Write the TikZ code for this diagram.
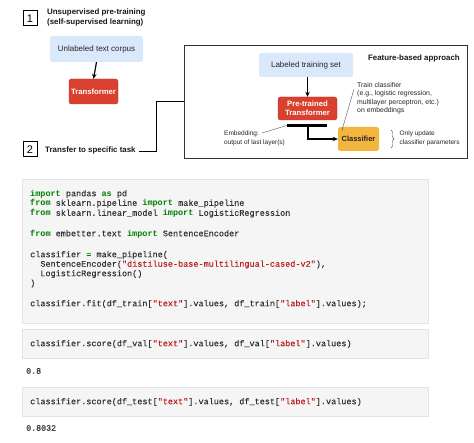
\documentclass[tikz,border=0pt]{standalone}
\usepackage{fontspec}
\setmainfont{Liberation Sans}
\newfontfamily\codefont[UprightFeatures={FakeBold=0.35}]{Liberation Mono}
\usetikzlibrary{arrows.meta,decorations.pathreplacing}
\definecolor{lblue}{HTML}{DAE8FC}
\definecolor{tred}{HTML}{D9412E}
\definecolor{corange}{HTML}{F2B53E}
\definecolor{kwgreen}{HTML}{008000}
\definecolor{strred}{HTML}{BA2121}
\definecolor{codefg}{HTML}{333333}
\definecolor{cellbg}{HTML}{F5F5F5}
\definecolor{cellbd}{HTML}{E4E4E4}
\definecolor{leader}{HTML}{555555}
\newcommand\kw[1]{\textcolor{kwgreen}{\bfseries #1}}
\newcommand\st[1]{\textcolor{strred}{#1}}
\begin{document}
\begin{tikzpicture}[x=1pt,y=-1pt,
  numbox/.style={draw=black, line width=1pt, minimum width=14pt, minimum height=15pt, inner sep=0pt, font=\fontsize{11}{12}\selectfont},
  heading/.style={font=\fontsize{7.9}{10}\selectfont\bfseries, align=left, inner sep=0pt, text=black!90},
  bluebox/.style={fill=lblue, rounded corners=2.5pt, inner sep=0pt, font=\fontsize{8}{9}\selectfont, text=black!85},
  redbox/.style={fill=tred, draw=tred!80!black, line width=0.4pt, rounded corners=2.5pt, inner sep=0pt, font=\fontsize{7.7}{9.4}\selectfont\bfseries, text=white, align=center},
  orangebox/.style={fill=corange, rounded corners=2.5pt, inner sep=0pt, font=\fontsize{7.5}{9}\selectfont\bfseries, text=black!85},
  note/.style={font=\fontsize{6.5}{8.4}\selectfont, align=left, inner sep=0pt, text=black!85},
  leaderline/.style={draw=leader, line width=0.4pt},
  arr/.style={-{Stealth[length=5pt,width=4.5pt]}, line width=1.2pt},
  cell/.style={fill=cellbg, draw=cellbd, line width=0.5pt, inner sep=0pt},
  code/.style={anchor=west, inner sep=0pt, font=\codefont\fontsize{8.5}{10}\selectfont, text=codefg},
  outtext/.style={anchor=west, inner sep=0pt, font=\codefont\fontsize{8.3}{10}\selectfont, text=codefg}
]
\path[use as bounding box] (0,0) rectangle (474,443);
\fill[white] (0,0) rectangle (474,443);

% ---- step 1 ----
\node[numbox] (n1) at (30,18.5) {1};
\node[heading, anchor=north west] (t1) at (47,8.5) {Unsupervised pre-training\\(self-supervised learning)};
\node[bluebox, minimum width=93pt, minimum height=26pt] (unl) at (96.5,49) {Unlabeled text corpus};
\node[redbox, minimum width=49pt, minimum height=25pt] (tr1) at (93.5,91.5) {Transformer};
\draw[arr] (unl.south) -- (tr1.north);

% ---- step 2 ----
\node[numbox] (n2) at (30,149.5) {2};
\node[heading, anchor=west] (t2) at (45,150.5) {Transfer to specific task};
\node[draw=black!80, line width=0.8pt, minimum width=283pt, minimum height=113pt, inner sep=0pt] (fb) at (325.5,101.5) {};
\coordinate (bend) at (156,151.5);
\draw[line width=1pt] ([xshift=3pt]t2.east |- bend) -- (bend) |- (fb.west);

\node[heading, anchor=east] (fbt) at (460,58) {Feature-based approach};
\node[bluebox, minimum width=94pt, minimum height=24pt] (lab) at (306,65) {Labeled training set};
\node[redbox, minimum width=59pt, minimum height=23pt] (ptr) at (307.5,108.5) {Pre-trained\\Transformer};
\draw[arr] (lab.south -| ptr.north) -- (ptr.north);
\node[fill=black, minimum width=40pt, minimum height=3.2pt, inner sep=0pt] (bar) at (307,125.5) {};
\node[orangebox, minimum width=41pt, minimum height=24pt] (cls) at (358.5,139) {Classifier};
\draw[arr] ([xshift=1pt]bar.south) |- (cls.west);

\node[note, anchor=west] (emb) at (224,138.5) {Embedding:\\output of last layer(s)};
\coordinate (embl) at (262,133);
\draw[leaderline] (embl) -- (bar.west);

\node[note, anchor=north west, font=\fontsize{6.9}{8.5}\selectfont] (tc) at (357,82) {Train classifier\\(e.g., logistic regression,\\multilayer perceptron, etc.)\\on embeddings};
\coordinate (tcl) at (354,89);
\draw[leaderline] (tcl) -- ([shift={(4pt,-4pt)}]cls.north west);

\coordinate (br1) at (391,130);
\coordinate (br2) at (391,148);
\draw[leaderline, decorate, decoration={brace, amplitude=3pt}] (br1) -- (br2);
\node[note, anchor=west] (ou) at (399.5,138.5) {Only update\\classifier parameters};

% ---- code cells ----
\node[cell, minimum width=406pt, minimum height=144pt] (cell1) at (225,251) {};
\node[cell, minimum width=406pt, minimum height=29pt] (cell2) at (225,343.5) {};
\node[cell, minimum width=406pt, minimum height=29pt] (cell3) at (225,401.5) {};

\node[code] (c1) at (30,194) {\kw{import} pandas \kw{as} pd};
\node[code] (c2) at (30,203.5) {\kw{from} sklearn.pipeline \kw{import} make\_pipeline};
\node[code] (c3) at (30,213.5) {\kw{from} sklearn.linear\_model \kw{import} LogisticRegression};
\node[code] (c4) at (30,234) {\kw{from} embetter.text \kw{import} SentenceEncoder};
\node[code] (c5) at (30,255) {classifier \textcolor{kwgreen}{=} make\_pipeline(};
\node[code] (c6) at (30,264.5) {\phantom{xx}SentenceEncoder(\st{"distiluse-base-multilingual-cased-v2"}),};
\node[code] (c7) at (30,274) {\phantom{xx}LogisticRegression()};
\node[code] (c8) at (30,283.5) {)};
\node[code] (c9) at (30,304) {classifier.fit(df\_train[\st{"text"}].values, df\_train[\st{"label"}].values);};

\node[code] (c10) at (30,344) {classifier.score(df\_val[\st{"text"}].values, df\_val[\st{"label"}].values)};
\node[outtext] (o1) at (26,371) {0.8};
\node[code] (c11) at (30,402) {classifier.score(df\_test[\st{"text"}].values, df\_test[\st{"label"}].values)};
\node[outtext] (o2) at (26,428) {0.8032};
\end{tikzpicture}
\end{document}
